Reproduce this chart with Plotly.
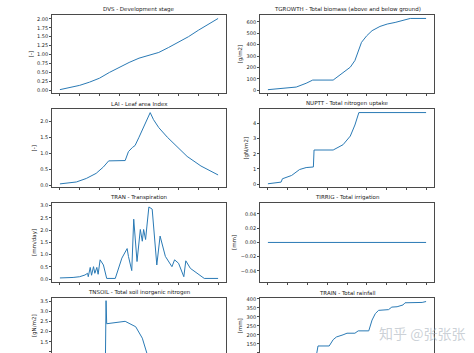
import plotly.graph_objects as go

# ---------------- data ----------------
dvs_day = [0, 15, 30, 45, 60, 75, 90, 105, 120, 135, 150, 165, 180, 195, 210, 225, 240]
dvs_val = [0.02, 0.07, 0.14, 0.23, 0.34, 0.50, 0.65, 0.78, 0.90, 0.98, 1.06, 1.20, 1.35, 1.50, 1.68, 1.85, 2.01]

tgr_day = [0, 28, 43, 58, 68, 99, 114, 125, 132, 142, 150, 158, 170, 181, 193, 206, 216, 240]
tgr_val = [6, 17, 29, 62, 90, 90, 151, 203, 261, 420, 478, 522, 559, 580, 594, 617, 629, 629]

lai_day = [0, 25, 40, 55, 66, 74, 99, 104, 110, 114, 120, 126, 131, 137, 142, 150, 163, 178, 193, 214, 240]
lai_val = [0.04, 0.10, 0.21, 0.37, 0.57, 0.76, 0.77, 1.05, 1.18, 1.24, 1.50, 1.78, 2.00, 2.27, 2.05, 1.80, 1.50, 1.20, 0.90, 0.60, 0.32]

nup_day = [0, 20, 22, 36, 48, 58, 69, 70, 99, 114, 125, 132, 138, 240]
nup_val = [0.02, 0.13, 0.35, 0.57, 0.96, 1.09, 1.13, 2.25, 2.25, 2.60, 3.17, 3.90, 4.72, 4.72]

tran_day = [0, 10, 15, 20, 30, 38, 42, 43, 46, 48, 51, 53, 56, 58, 61, 66, 71, 84, 94, 102, 104, 109, 112, 117,
            122, 125, 127, 130, 132, 135, 140, 142, 147, 152, 160, 170, 174, 180, 188, 191, 198, 219, 240]
tran_val = [0.05, 0.05, 0.08, 0.07, 0.10, 0.17, 0.24, 0.10, 0.48, 0.16, 0.51, 0.24, 0.48, 0.20, 0.79, 0.58, 0.03, 0.03, 0.86, 1.25, 0.93, 0.35, 2.45, 0.72,
            2.03, 1.55, 2.03, 1.62, 2.17, 2.95, 2.86, 2.24, 0.58, 1.76, 0.93, 0.51, 0.79, 0.65, 0.10, 0.75, 0.44, 0.03, 0.03]

irr_day = [0, 240]
irr_val = [0.0, 0.0]

tns_day = [0, 20, 40, 60, 69, 70, 71, 99, 115, 125, 130, 135, 145, 170, 200, 240]
tns_val = [0.80, 0.70, 0.60, 0.50, 0.45, 3.55, 2.40, 2.52, 2.25, 1.68, 1.00, 0.60, 0.35, 0.25, 0.20, 0.20]

rain_day = [0, 10, 20, 30, 45, 55, 65, 74, 76, 93, 99, 104, 114, 120, 132, 137, 153, 156, 158, 163, 168, 183, 188, 196, 205, 208, 234, 240]
rain_val = [0, 5, 20, 30, 50, 70, 85, 95, 138, 138, 173, 188, 200, 209, 209, 222, 222, 255, 282, 318, 336, 340, 354, 356, 366, 378, 380, 385]

titles = ["DVS - Development stage", "TGROWTH - Total biomass (above and below ground)",
          "LAI - Leaf area Index", "NUPTT - Total nitrogen uptake",
          "TRAN - Transpiration", "TIRRIG - Total irrigation",
          "TNSOIL - Total soil inorganic nitrogen", "TRAIN - Total rainfall"]
ylabels = ["[-]", "[g/m2]", "[-]", "[gN/m2]", "[mm/day]", "[mm]", "[gN/m2]", "[mm]"]
x_ticks = [0, 30, 60, 90, 120, 150, 180, 210, 240]

series = [(dvs_day, dvs_val), (tgr_day, tgr_val), (lai_day, lai_val), (nup_day, nup_val),
          (tran_day, tran_val), (irr_day, irr_val), (tns_day, tns_val), (rain_day, rain_val)]

yranges = [[-0.08, 2.11], [-25, 660], [-0.07, 2.38], [-0.22, 4.95],
           [-0.1, 3.1], [-0.055, 0.055], [0.94, 3.66], [99, 402]]
ydticks = [0.25, 100, 0.5, 1, 0.5, 0.02, 0.5, 50]
y0ticks = [0, 0, 0, 0, 0, -0.04, 1.0, 100]
yformats = [".2f", "d", ".1f", "d", ".1f", ".2f", ".1f", "d"]

# ---------------- layout ----------------
W, H = 474, 353
xdoms = [[52 / W, 226 / W], [260 / W, 434 / W]]
row_px = [(12, 91), (107, 186), (202, 281), (298, 353)]
ydoms = [[1 - b / H, 1 - t / H] for t, b in row_px]

FONT = "DejaVu Sans"
LINE_C = "#4a4a4a"
fig = go.Figure()
layout = dict(width=W, height=H, margin=dict(l=0, r=0, t=0, b=0),
              paper_bgcolor="white", plot_bgcolor="white",
              font=dict(family=FONT, size=5, color="#222"), showlegend=False)
annotations = []

for i, ((xd, yd), title) in enumerate(zip(series, titles)):
    r, c = divmod(i, 2)
    n = i + 1
    xa = "x" if n == 1 else f"x{n}"
    ya = "y" if n == 1 else f"y{n}"
    fig.add_trace(go.Scatter(x=xd, y=yd, mode="lines", xaxis=xa, yaxis=ya,
                             line=dict(color="#2a7ab5", width=1.0)))
    last = (r == 3)
    xaxis = dict(domain=xdoms[c], anchor=ya, range=[-12, 252], tickvals=x_ticks,
                 showticklabels=False, showgrid=False, zeroline=False,
                 showline=True, linecolor=LINE_C, linewidth=0.8)
    if last:
        xaxis.update(side="top", mirror=False, ticks="")
    else:
        xaxis.update(mirror=True, ticks="outside", ticklen=2, tickwidth=0.6, tickcolor=LINE_C)
    yaxis = dict(domain=ydoms[r], anchor=xa, range=yranges[i], dtick=ydticks[i], tick0=y0ticks[i],
                 tickformat=yformats[i], showgrid=False, zeroline=False,
                 showline=True, mirror=True, linecolor=LINE_C, linewidth=0.8,
                 ticks="outside", ticklen=2, tickwidth=0.6, tickcolor=LINE_C,
                 tickfont=dict(size=5, family=FONT, color="#222"),
                 title=dict(text=ylabels[i], font=dict(size=5.5, family=FONT, color="#222"), standoff=3))
    layout["xaxis" if n == 1 else f"xaxis{n}"] = xaxis
    layout["yaxis" if n == 1 else f"yaxis{n}"] = yaxis
    annotations.append(dict(text=title, x=sum(xdoms[c]) / 2, y=ydoms[r][1], xref="paper", yref="paper",
                            xanchor="center", yanchor="bottom", showarrow=False, yshift=0,
                            font=dict(size=5.5, family=FONT, color="#222")))

annotations.append(dict(text="知乎 @张张张", x=422 / W, y=1 - 333 / H, xref="paper", yref="paper",
                        xanchor="center", yanchor="middle", showarrow=False,
                        font=dict(size=14, family="Noto Sans CJK SC", color="rgba(160,170,180,0.55)")))
layout["annotations"] = annotations
fig.update_layout(**layout)
fig.write_html("out.html")
